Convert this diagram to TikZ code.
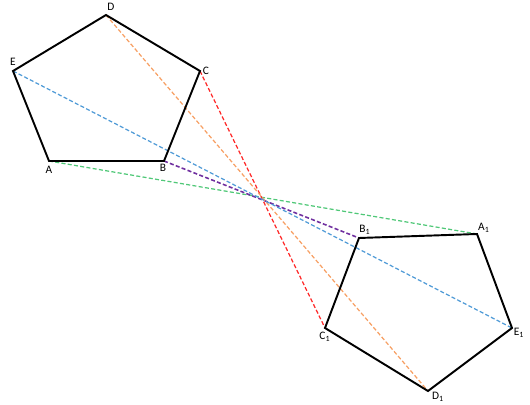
\documentclass[tikz,border=0pt]{standalone}
\usepackage{fontspec}
\setmainfont{Carlito}
\definecolor{cgreen}{RGB}{80,200,120}
\definecolor{cpurple}{RGB}{112,48,160}
\definecolor{cred}{RGB}{255,40,40}
\definecolor{corange}{RGB}{247,160,100}
\definecolor{cblue}{RGB}{80,155,215}
\tikzset{
  pent/.style={draw=black,line width=1.1pt,line join=miter},
  conn/.style={line width=0.7pt,dash pattern=on 2.3pt off 1.3pt},
  lbl/.style={font=\fontsize{6.5}{7}\selectfont,inner sep=0pt},
  pt/.style={inner sep=0pt,minimum size=0pt}
}
\newcommand{\sub}[1]{\textsubscript{#1}}
\begin{document}
\begin{tikzpicture}[x=0.02cm,y=-0.02cm]
\useasboundingbox (0,0) rectangle (530,405);
% first pentagon
\coordinate (A) at (49,161);
\coordinate (B) at (164,161);
\coordinate (C) at (200,71);
\coordinate (D) at (106,15);
\coordinate (E) at (13,71);
% second pentagon
\coordinate (A1) at (477,234);
\coordinate (B1) at (359,238);
\coordinate (C1) at (325,328);
\coordinate (D1) at (428,391);
\coordinate (E1) at (512,328);
% connectors
\draw[conn,cgreen] (A) -- (A1);
\draw[conn,cpurple,line width=0.9pt] (B) -- (B1);
\draw[conn,cred] (C) -- (C1);
\draw[conn,corange] (D) -- (D1);
\draw[conn,cblue] (E) -- (E1);
% pentagons
\draw[pent] (A) -- (B) -- (C) -- (D) -- (E) -- cycle;
\draw[pent] (A1) -- (E1) -- (D1) -- (C1) -- (B1) -- cycle;
% labels
\node[lbl] (lA) at (49,170) {A};
\node[lbl] (lB) at (163,168) {B};
\node[lbl] (lC) at (206,71) {C};
\node[lbl] (lD) at (111,7) {D};
\node[lbl] (lE) at (13,62) {E};
\node[lbl] (lA1) at (484,228) {A\sub{1}};
\node[lbl] (lB1) at (365,230) {B\sub{1}};
\node[lbl] (lC1) at (325,337) {C\sub{1}};
\node[lbl] (lD1) at (438,397) {D\sub{1}};
\node[lbl] (lE1) at (519,333) {E\sub{1}};
\end{tikzpicture}
\end{document}
